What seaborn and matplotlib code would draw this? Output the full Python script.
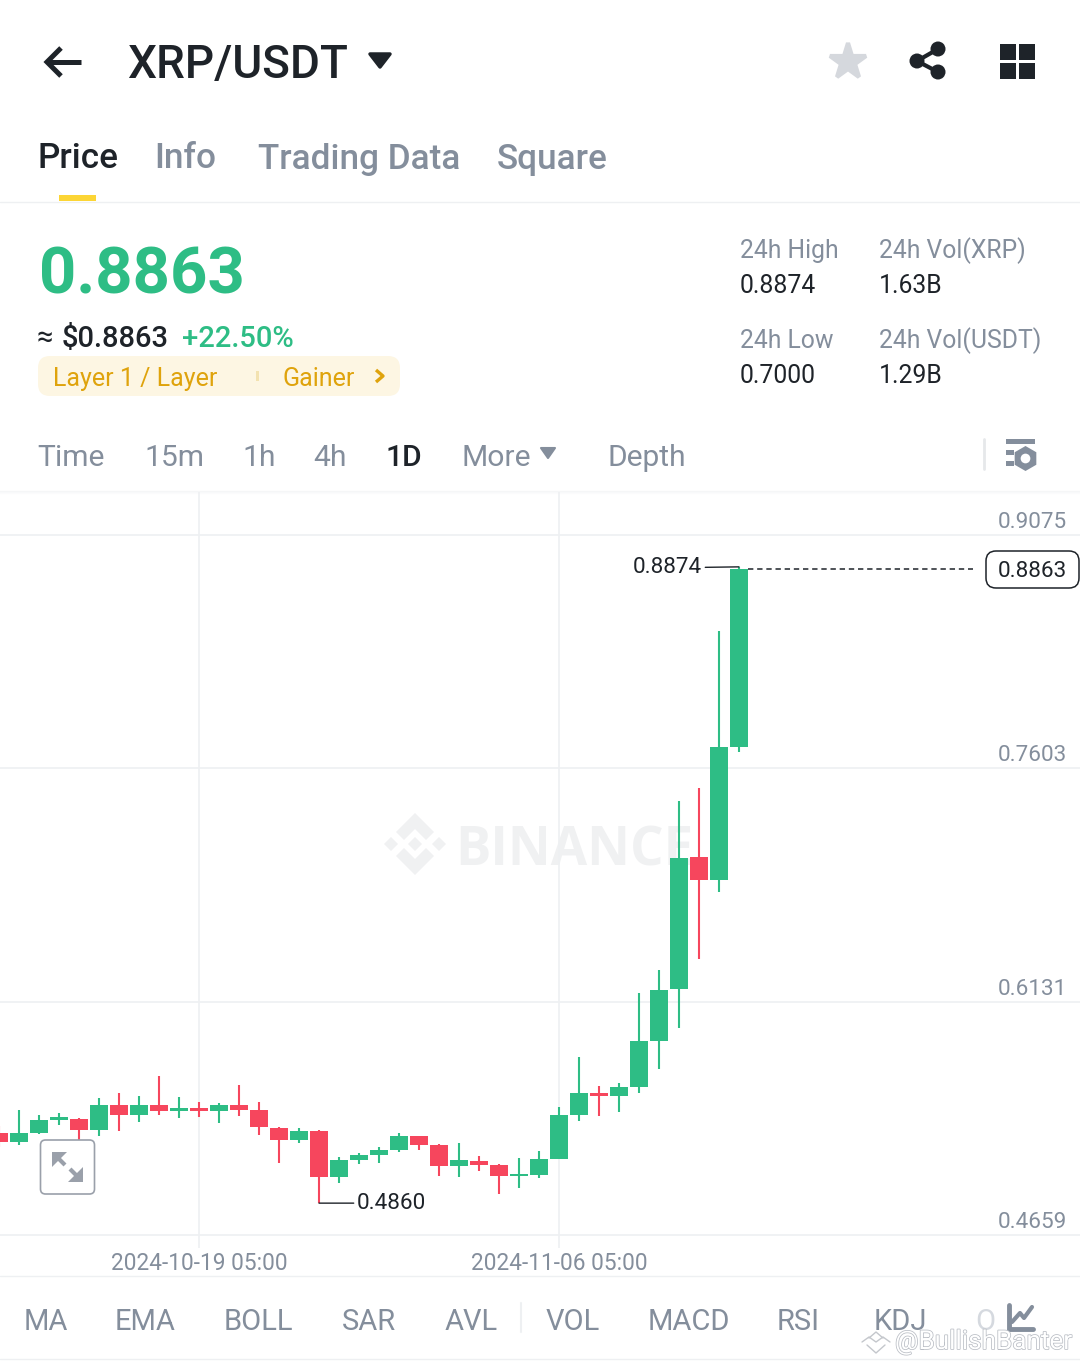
import numpy as np
import pandas as pd
import matplotlib
matplotlib.use("Agg")
import matplotlib.pyplot as plt
import matplotlib.dates as mdates
import matplotlib.patheffects as pe
from matplotlib.patches import FancyBboxPatch, Polygon, Circle, Rectangle
import seaborn as sns

GREEN = "#2EBD85"
RED = "#F6465D"
DARK = "#1E2329"
GRAY = "#848E9C"
GRID = "#EEF0F2"
GOLD = "#DFA30C"

# daily candles, oldest first
start_date = "2024-10-09 05:00"
opens = [0.5304, 0.5246, 0.5303, 0.5387, 0.5391, 0.5322, 0.5481, 0.5416, 0.5479, 0.5441,
         0.5462, 0.5441, 0.5479, 0.5448, 0.5336, 0.5258, 0.5317, 0.5025, 0.5134, 0.5166,
         0.5195, 0.5284, 0.5227, 0.5096, 0.5128, 0.5101, 0.5029, 0.5038, 0.5140, 0.5418,
         0.5555, 0.5538, 0.5593, 0.5885, 0.6211, 0.7041, 0.6899, 0.7738]
closes = [0.5246, 0.5303, 0.5385, 0.5402, 0.5322, 0.5481, 0.5416, 0.5479, 0.5441, 0.5462,
          0.5441, 0.5479, 0.5450, 0.5340, 0.5258, 0.5317, 0.5025, 0.5132, 0.5166, 0.5195,
          0.5284, 0.5229, 0.5094, 0.5132, 0.5103, 0.5031, 0.5044, 0.5139, 0.5416, 0.5555,
          0.5538, 0.5593, 0.5883, 0.6205, 0.7038, 0.6899, 0.7735, 0.8863]
highs = [0.5347, 0.5448, 0.5416, 0.5431, 0.5397, 0.5523, 0.5555, 0.5536, 0.5664, 0.5530,
         0.5498, 0.5492, 0.5606, 0.5498, 0.5340, 0.5334, 0.5322, 0.5151, 0.5176, 0.5214,
         0.5303, 0.5286, 0.5235, 0.5241, 0.5157, 0.5109, 0.5145, 0.5189, 0.5467, 0.5782,
         0.5599, 0.5618, 0.6186, 0.6331, 0.7395, 0.7480, 0.8472, 0.8874]
lows = [0.5214, 0.5229, 0.5296, 0.5353, 0.5258, 0.5284, 0.5315, 0.5374, 0.5418, 0.5397,
        0.5405, 0.5366, 0.5410, 0.5290, 0.5115, 0.5241, 0.4860, 0.4989, 0.5109, 0.5113,
        0.5185, 0.5195, 0.5031, 0.5025, 0.5063, 0.4918, 0.4957, 0.5019, 0.5140, 0.5378,
        0.5412, 0.5435, 0.5555, 0.5706, 0.5968, 0.6401, 0.6823, 0.7703]
price_ticks = [0.9075, 0.7603, 0.6131, 0.4659]
date_ticks = ["2024-10-19 05:00", "2024-11-06 05:00"]

tabs = [("Price", 38), ("Info", 154), ("Trading Data", 258), ("Square", 497)]
intervals = [("Time", 37), ("15m", 144), ("1h", 242), ("4h", 313), ("1D", 386), ("More", 461), ("Depth", 607)]
indicators = [("MA", 24), ("EMA", 115), ("BOLL", 224), ("SAR", 342), ("AVL", 445),
              ("VOL", 546), ("MACD", 648), ("RSI", 777), ("KDJ", 874)]
stats = [("24h High", "0.8874", 740, 251), ("24h Vol(XRP)", "1.63B", 879, 251),
         ("24h Low", "0.7000", 740, 341), ("24h Vol(USDT)", "1.29B", 879, 341)]

sns.set_theme(style="white")
plt.rcParams["font.family"] = ["Roboto", "DejaVu Sans"]

W, H = 1080, 1363
fig = plt.figure(figsize=(W / 100, H / 100), dpi=100, facecolor="white")


def pixel_axes(zorder):
    # overlay in screen pixels, y going down
    a = fig.add_axes([0, 0, 1, 1], zorder=zorder)
    a.set_xlim(0, W)
    a.set_ylim(H, 0)
    a.axis("off")
    a.patch.set_alpha(0)
    return a


bg = pixel_axes(0)
ui = pixel_axes(2)

# --- chart ---
CH_TOP, CH_BOT = 492, 1248
ax = fig.add_axes([0, 1 - CH_BOT / H, 1, (CH_BOT - CH_TOP) / H], zorder=1)
ax.patch.set_alpha(0)

dates = pd.date_range(start_date, periods=len(opens), freq="D")
days = mdates.date2num(dates)
candles = pd.DataFrame({"day": days, "open": opens, "close": closes, "high": highs, "low": lows})
candles["base"] = candles[["open", "close"]].min(axis=1)
candles["size"] = (candles["close"] - candles["open"]).abs()
up = candles[candles["close"] >= candles["open"]]
down = candles[candles["close"] < candles["open"]]

for part, color in [(up, GREEN), (down, RED)]:
    ax.vlines(part["day"], part["low"], part["high"], color=color, lw=1.5)
    sns.barplot(x=part["day"].values, y=part["size"].values, bottom=part["base"].values,
                color=color, saturation=1, width=0.86, native_scale=True,
                errorbar=None, ax=ax, linewidth=0)

# scale: 0.4416 of price is 700 px, 1 day is 20 px
px_per_price = 700 / (price_ticks[0] - price_ticks[3])
ax.set_ylim(price_ticks[3] - (CH_BOT - 1235) / px_per_price,
            price_ticks[3] + (1235 - CH_TOP) / px_per_price)
tick_days = mdates.date2num(pd.to_datetime(date_ticks))
ax.set_xlim(tick_days[0] - 199 / 20, tick_days[0] + (W - 199) / 20)
ax.set_xticks(tick_days)
ax.xaxis.set_major_formatter(mdates.DateFormatter("%Y-%m-%d %H:%M"))
ax.set_yticks(price_ticks)
ax.set_yticklabels([])
ax.set_xlabel("")
ax.set_ylabel("")
ax.grid(True, color=GRID, lw=1.2)
ax.set_axisbelow(True)
ax.tick_params(axis="x", length=0, pad=2.8, labelsize=16.3, labelcolor=GRAY)
ax.tick_params(axis="y", length=0)
sns.despine(ax=ax, left=True, bottom=True)

for t in price_ticks:
    ax.annotate(f"{t:.4f}", xy=(1, t), xycoords=("axes fraction", "data"), xytext=(-13, 2),
                textcoords="offset pixels", ha="right", va="bottom", fontsize=16.2, color=GRAY)

# high / low callouts
high_i = int(np.argmax(highs))
low_i = int(np.argmin(lows))
ax.annotate(f"{highs[high_i]:.4f}", xy=(days[high_i], highs[high_i]), xytext=(-37, -1),
            textcoords="offset pixels", ha="right", va="center", fontsize=16.2, color=DARK,
            arrowprops=dict(arrowstyle="-", color=DARK, lw=1, shrinkA=0, shrinkB=0))
ax.annotate(f"{lows[low_i]:.4f}", xy=(days[low_i], lows[low_i]), xytext=(38, 0),
            textcoords="offset pixels", ha="left", va="center", fontsize=16.2, color=DARK,
            arrowprops=dict(arrowstyle="-", color=DARK, lw=1, shrinkA=0, shrinkB=0))

# last price line
ax.plot([days[-1] + 0.45, days[-1] + 11.7], [closes[-1], closes[-1]], color=DARK, lw=1.1,
        dashes=(3.5, 2.5))
ax.annotate(f"{closes[-1]:.4f}", xy=(1, closes[-1]), xycoords=("axes fraction", "data"),
            xytext=(-13, -3), textcoords="offset pixels", ha="right", va="center", fontsize=16.2,
            color=DARK)
ui.add_patch(FancyBboxPatch((986, 551), 93, 37, boxstyle="round,pad=0,rounding_size=10",
                            fc="none", ec=DARK, lw=1.1))

# --- watermark behind the candles ---
WM = "#F0F1F2"
bg.text(455, 851, "BINANCE", fontsize=38, fontweight="bold", color=WM, ha="left", va="center",
        family="Open Sans")
top_chev = np.array([(415, 813), (434, 832), (426, 840), (415, 829), (404, 840), (396, 832)])
bg.add_patch(Polygon(top_chev, color=WM, lw=0))
bg.add_patch(Polygon(np.c_[top_chev[:, 0], 1688 - top_chev[:, 1]], color=WM, lw=0))
for cx in (391, 415, 439):
    bg.add_patch(Polygon([(cx - 7, 844), (cx, 837), (cx + 7, 844), (cx, 851)], color=WM, lw=0))

# --- header ---
ui.plot([47, 81], [62, 62], color=DARK, lw=3.6, solid_capstyle="butt")
ui.plot([61, 47, 61], [48, 62, 76], color=DARK, lw=3.6, solid_joinstyle="miter", solid_capstyle="butt")
ui.text(127, 65, "XRP/USDT", fontsize=33, fontweight="medium", color=DARK, ha="left", va="center")
ui.add_patch(Polygon([(370, 54), (390, 54), (380, 67)], fc=DARK, ec=DARK, lw=2.5, joinstyle="round"))
ui.plot(848, 62, marker="*", ms=27, color="#D5D8DD", mec="#D5D8DD", mew=3)
for p, q in [((917, 61), (938, 49)), ((917, 61), (938, 72))]:
    ui.plot([p[0], q[0]], [p[1], q[1]], color=DARK, lw=3)
for c in [(917, 61), (938, 49), (938, 72)]:
    ui.add_patch(Circle(c, 7.5, color=DARK, lw=0))
for x0 in (1000, 1019):
    for y0 in (44, 63):
        ui.add_patch(Rectangle((x0, y0), 15.5, 15.5, color=DARK, lw=0))

for label, x in tabs:
    active = label == "Price"
    ui.text(x, 159, label, fontsize=25.3, color=DARK if active else GRAY,
            fontweight="medium", ha="left", va="center")
ui.add_patch(Rectangle((59, 195), 37, 6, color="#FCD535", lw=0))
ui.plot([0, W], [201.5, 201.5], color=GRID, lw=1)

# --- price block ---
ui.text(39, 276, "0.8863", fontsize=47, fontweight="bold", color=GREEN, ha="left", va="center")
ui.text(37, 338, "≈", fontsize=21, color=DARK, ha="left", va="center")
ui.text(62, 339, "$0.8863", fontsize=21, fontweight="medium", color=DARK, ha="left", va="center")
ui.text(182, 339, "+22.50%", fontsize=21, fontweight="medium", color=GREEN, ha="left", va="center")
ui.add_patch(FancyBboxPatch((38, 356), 362, 40, boxstyle="round,pad=0,rounding_size=12",
                            fc="#FDF6E3", ec="none"))
ui.text(53, 379, "Layer 1 / Layer", fontsize=18, color=GOLD, ha="left", va="center")
ui.add_patch(Rectangle((256, 371), 3, 10, color="#F3E2B0", lw=0))
ui.text(282, 379, "Gainer", fontsize=18, color=GOLD, ha="left", va="center")
ui.plot([376, 383, 376], [370, 376, 382], color=GOLD, lw=2.4, solid_capstyle="butt")

for head, val, x, y in stats:
    ui.text(x, y, head, fontsize=17.8, color=GRAY, ha="left", va="center")
    ui.text(x, y + 35, val, fontsize=17.8, color=DARK, ha="left", va="center")

# --- interval row ---
for label, x in intervals:
    active = label == "1D"
    ui.text(x, 458, label, fontsize=21.6, color=DARK if active else GRAY,
            fontweight="medium" if active else "normal", ha="left", va="center")
ui.add_patch(Polygon([(541, 448), (555, 448), (548, 458)], color=GRAY, lw=1.5, joinstyle="round"))
ui.plot([984, 984], [439, 469], color="#E6E8EA", lw=2)
ui.add_patch(Rectangle((1006, 439), 29, 5, color=GRAY, lw=0))
ui.add_patch(Rectangle((1006, 450), 8, 5, color=GRAY, lw=0))
ui.add_patch(Rectangle((1006, 461), 8, 5, color=GRAY, lw=0))
ui.plot(1025, 458, marker="h", ms=18, color=GRAY, mew=0)
ui.plot(1025, 458, marker="o", ms=7, color="white", mew=0)
for i, c in enumerate(["#F5F6F7", "#F8F9FA", "#FBFBFC"]):
    bg.plot([0, W], [491 + i, 491 + i], color=c, lw=1)

# --- expand button ---
ui.add_patch(FancyBboxPatch((40.5, 1140), 54, 54, boxstyle="round,pad=0,rounding_size=5",
                            fc="white", ec="#9AA0AA", lw=1.2))
ui.add_patch(Polygon([(52, 1152), (67, 1152), (52, 1167)], color="#9AA0AA", lw=0))
ui.add_patch(Polygon([(83, 1182), (68, 1182), (83, 1167)], color="#9AA0AA", lw=0))
ui.plot([57, 65], [1157, 1165], color="#9AA0AA", lw=3, solid_capstyle="butt")
ui.plot([70, 78], [1169, 1177], color="#9AA0AA", lw=3, solid_capstyle="butt")

# --- indicator row ---
ui.plot([0, W], [1275.5, 1275.5], color=GRID, lw=1)
ui.plot([0, W], [1359, 1359], color=GRID, lw=1)
for label, x in indicators:
    ui.text(x, 1322, label, fontsize=21, color=GRAY, ha="left", va="center")
ui.text(975, 1322, "O", fontsize=21, color="#D5D9DF", ha="left", va="center")
ui.plot([521, 521], [1303, 1332], color=GRID, lw=1.5)
ui.plot([1009, 1009, 1033], [1305, 1329, 1329], color=GRAY, lw=3.5, solid_joinstyle="miter")
ui.plot([1012, 1020, 1024, 1032], [1322, 1313, 1318, 1307], color=GRAY, lw=3)

# repost watermark
outline = [pe.withStroke(linewidth=1.1, foreground="#B9BDC4")]
ui.text(895, 1342, "@BullishBanter", fontsize=18.8, color="white", ha="left", va="center",
        path_effects=outline)
ui.plot([869, 876, 883], [1338, 1332, 1338], color="#C4C7CC", lw=1)
ui.plot([862, 869, 876, 883, 890], [1342, 1337, 1342, 1337, 1342], color="#C4C7CC", lw=1)
ui.plot([867, 876, 885], [1345, 1353, 1345], color="#C4C7CC", lw=1)

fig.savefig("out.png", dpi=100)
plt.close(fig)
